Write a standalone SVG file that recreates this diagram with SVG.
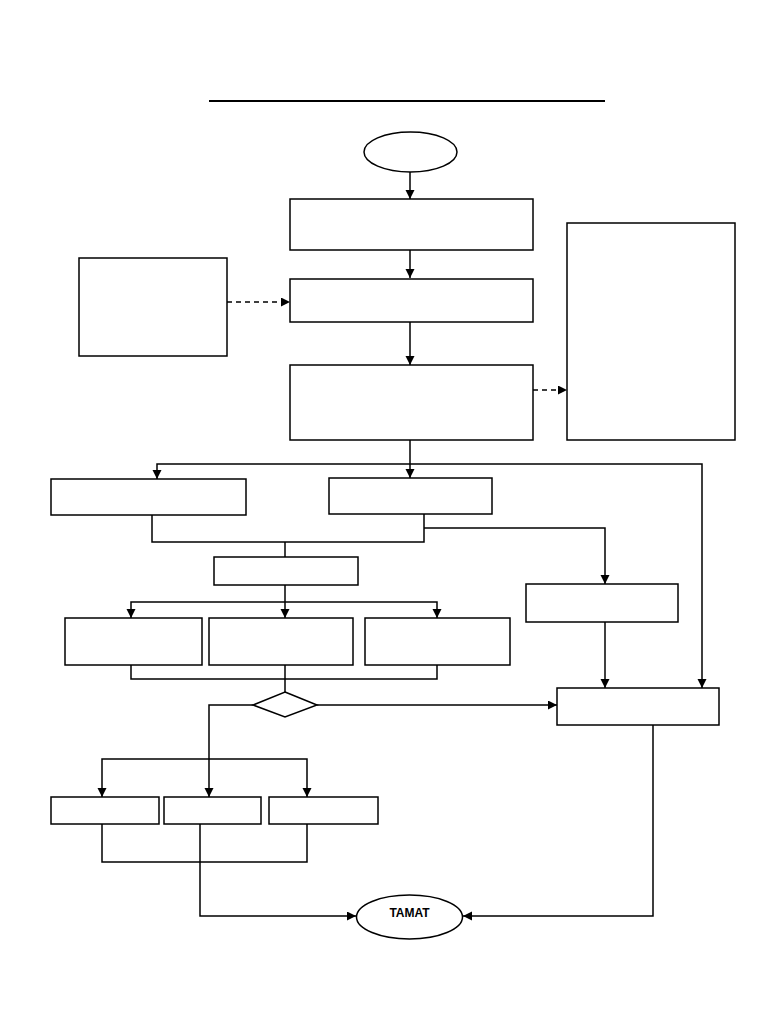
<svg xmlns="http://www.w3.org/2000/svg" width="768" height="1024" viewBox="0 0 768 1024">
<style>
.n{fill:#fff;stroke:#000;stroke-width:1.5}
.c{fill:none;stroke:#000;stroke-width:1.5}
.d{fill:none;stroke:#000;stroke-width:1.5;stroke-dasharray:5 4}
.t{font-family:"Liberation Sans",Arial,sans-serif;font-size:12px;font-weight:bold}
</style>
<defs>
<marker id="a" markerUnits="userSpaceOnUse" markerWidth="10" markerHeight="10" refX="9" refY="4.5" orient="auto"><path d="M0,0 L9,4.5 L0,9 z" fill="#000"/></marker>
</defs>
<rect width="768" height="1024" fill="#fff"/>
<line x1="209" y1="101" x2="605" y2="101" stroke="#000" stroke-width="2.2"/>
<g id="connectors">
<path class="c" d="M410,172 V199" marker-end="url(#a)"/>
<path class="c" d="M410,250 V278" marker-end="url(#a)"/>
<path class="d" d="M227,302 H290" marker-end="url(#a)"/>
<path class="c" d="M410,322 V365" marker-end="url(#a)"/>
<path class="d" d="M533,390 H567" marker-end="url(#a)"/>
<path class="c" d="M410,440 V478" marker-end="url(#a)"/>
<path class="c" d="M410,464 H157 V479" marker-end="url(#a)"/>
<path class="c" d="M410,464 H702 V688" marker-end="url(#a)"/>
<path class="c" d="M152,515 V542 H424 V514"/>
<path class="c" d="M285,542 V557"/>
<path class="c" d="M424,528 H605 V584" marker-end="url(#a)"/>
<path class="c" d="M605,622 V688" marker-end="url(#a)"/>
<path class="c" d="M285,585 V618" marker-end="url(#a)"/>
<path class="c" d="M285,602 H131 V618" marker-end="url(#a)"/>
<path class="c" d="M285,602 H437 V618" marker-end="url(#a)"/>
<path class="c" d="M131,665 V679 H437 V665"/>
<path class="c" d="M285,665 V692"/>
<path class="c" d="M317,705 H557" marker-end="url(#a)"/>
<path class="c" d="M253,705 H209 V797" marker-end="url(#a)"/>
<path class="c" d="M209,759 H102 V797" marker-end="url(#a)"/>
<path class="c" d="M209,759 H307 V797" marker-end="url(#a)"/>
<path class="c" d="M102,824 V862 H307 V824"/>
<path class="c" d="M200,824 V916 H356" marker-end="url(#a)"/>
<path class="c" d="M653,725 V916 H463" marker-end="url(#a)"/>
</g>
<g id="start"><ellipse class="n" cx="410.5" cy="152" rx="46.5" ry="20"/></g>
<g id="box1"><rect class="n" x="290" y="199" width="243" height="51"/></g>
<g id="box2"><rect class="n" x="290" y="279" width="243" height="43"/></g>
<g id="leftbox"><rect class="n" x="79" y="258" width="148" height="98"/></g>
<g id="box3"><rect class="n" x="290" y="365" width="243" height="75"/></g>
<g id="rightbox"><rect class="n" x="567" y="223" width="168" height="217"/></g>
<g id="boxL"><rect class="n" x="51" y="479" width="195" height="36"/></g>
<g id="boxM"><rect class="n" x="329" y="478" width="163" height="36"/></g>
<g id="box4"><rect class="n" x="214" y="557" width="144" height="28"/></g>
<g id="box5"><rect class="n" x="526" y="584" width="152" height="38"/></g>
<g id="boxA"><rect class="n" x="65" y="618" width="137" height="47"/></g>
<g id="boxB"><rect class="n" x="209" y="618" width="144" height="47"/></g>
<g id="boxC"><rect class="n" x="365" y="618" width="145" height="47"/></g>
<g id="decision"><polygon class="n" points="285,692 317,705 285,717 253,705"/></g>
<g id="box6"><rect class="n" x="557" y="688" width="162" height="37"/></g>
<g id="boxD"><rect class="n" x="51" y="797" width="108" height="27"/></g>
<g id="boxE"><rect class="n" x="164" y="797" width="97" height="27"/></g>
<g id="boxF"><rect class="n" x="269" y="797" width="109" height="27"/></g>
<g id="end"><ellipse class="n" cx="409.5" cy="917" rx="53" ry="22"/><text class="t" x="409.5" y="913" text-anchor="middle" dominant-baseline="central">TAMAT</text></g>
</svg>
